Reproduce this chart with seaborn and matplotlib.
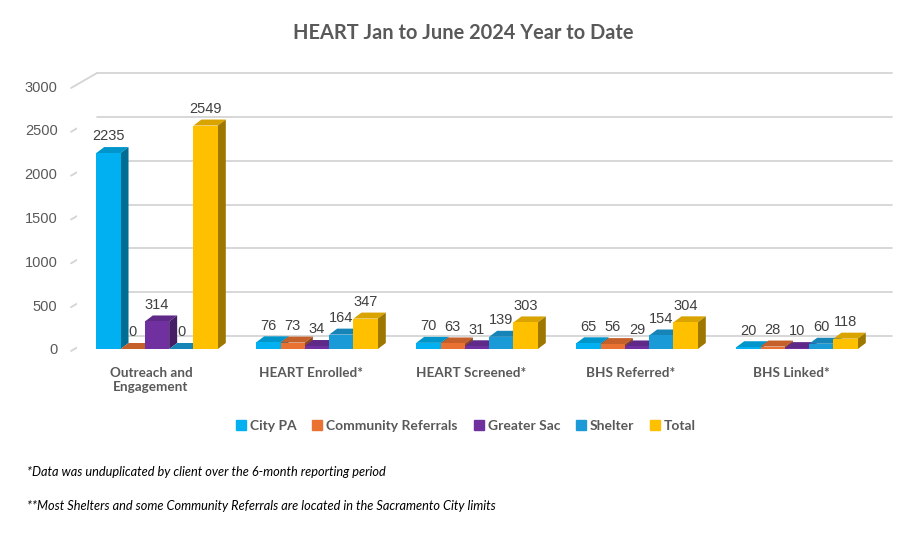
import numpy as np
import pandas as pd
import matplotlib
matplotlib.use("Agg")
import matplotlib.pyplot as plt
import matplotlib.transforms as mtransforms
from matplotlib.patches import Polygon
from matplotlib.lines import Line2D
import seaborn as sns

# Data
categories = ["Outreach and\nEngagement", "HEART Enrolled*", "HEART Screened*",
              "BHS Referred*", "BHS Linked*"]
series = ["City PA", "Community Referrals", "Greater Sac", "Shelter", "Total"]
city_pa = [2235, 76, 70, 65, 20]
community_referrals = [0, 73, 63, 56, 28]
greater_sac = [314, 34, 31, 29, 10]
shelter = [0, 164, 139, 154, 60]
total = [2549, 347, 303, 304, 118]
colors = ["#00B0F0", "#E97132", "#7030A0", "#1A9BD7", "#FFC000"]

df = pd.DataFrame({
    "Category": categories * 5,
    "Series": [s for s in series for _ in categories],
    "Value": city_pa + community_referrals + greater_sac + shelter + total,
})

DPI = 100
W, H = 917, 534
GRAY = "#595959"

sns.set_theme(style="white")
plt.rcParams["font.family"] = ["Liberation Sans", "DejaVu Sans"]

fig = plt.figure(figsize=(W / DPI, H / DPI), dpi=DPI)
# axes placed in pixel terms: front plane 0 at y=349, 3000 at y=86
ax_left, ax_right, ax_bottom, ax_top = 77, 877, 349, 86
ax = fig.add_axes([ax_left / W, (H - ax_bottom) / H,
                   (ax_right - ax_left) / W, (ax_bottom - ax_top) / H])

sns.barplot(data=df, x="Category", y="Value", hue="Series", order=categories,
            hue_order=series, palette=colors, width=0.76, gap=0,
            saturation=1, linewidth=0, legend=False, ax=ax)

ax.set_xlim(-0.5, 4.5)
ax.set_ylim(0, 3000)
ax.set_yticks(np.arange(0, 3001, 500))
ax.set_xlabel("")
ax.set_ylabel("")
for s in ax.spines.values():
    s.set_visible(False)
ax.tick_params(axis="y", length=0, pad=14, labelsize=10.5, labelcolor=GRAY)
ax.tick_params(axis="x", length=0, pad=13)
for lab in ax.get_xticklabels():
    lab.set_fontfamily(["Lato", "DejaVu Sans"])
    lab.set_fontweight("bold")
    lab.set_fontsize(9.7)
    lab.set_color(GRAY)
    lab.set_verticalalignment("top")
    lab.set_transform(lab.get_transform() +
                      mtransforms.ScaledTranslation(-6 / DPI, 0, fig.dpi_scale_trans))

# back-wall gridlines with a small perspective offset
gdx, gdy = 20, 13
blend = mtransforms.blended_transform_factory(ax.transAxes, ax.transData)
for v in ax.get_yticks():
    up = blend + mtransforms.ScaledTranslation(0, gdy / DPI, fig.dpi_scale_trans)
    ax.plot([gdx / 800, 1 + 15 / 800], [v, v], transform=up, color="#D4D4D4",
            lw=1.3, clip_on=False, zorder=0)
    p0 = blend.transform((-6 / 800, v)) + np.array([0, -2])
    p1 = blend.transform((gdx / 800, v)) + np.array([0, gdy])
    fig.add_artist(Line2D([p0[0], p1[0]], [p0[1], p1[1]], transform=None,
                          color="#D4D4D4", lw=1.3, zorder=0))

# 3D-look: top and side faces for every bar, drawn in display coordinates
dx, dy = 8, 6
bars = sorted(ax.patches, key=lambda p: p.get_x())
for i, p in enumerate(bars):
    x, w, h = p.get_x(), p.get_width(), p.get_height()
    (x0, y0), (x1, y1) = ax.transData.transform([(x, 0), (x + w, h)])
    face = np.array(p.get_facecolor()[:3])
    top = Polygon([(x0, y1), (x1, y1), (x1 + dx, y1 + dy), (x0 + dx, y1 + dy)],
                  closed=True, transform=None, facecolor=face * 0.85,
                  edgecolor="none", zorder=2 + i * 0.1)
    side = Polygon([(x1, y0), (x1 + dx, y0 + dy), (x1 + dx, y1 + dy), (x1, y1)],
                   closed=True, transform=None, facecolor=face * 0.62,
                   edgecolor="none", zorder=2 + i * 0.1)
    fig.add_artist(top)
    fig.add_artist(side)
    p.set_zorder(2.05 + i * 0.1)
    p.remove()
    fig.add_artist(p)
    p.set_transform(ax.transData)

# value labels above each bar
for i, v in enumerate(df["Value"]):
    si, ci = divmod(i, len(categories))
    xc = ci - 0.38 + 0.152 * (si + 0.5)
    ax.annotate(f"{v}", (xc, v), xytext=(0, 7), textcoords="offset points",
                ha="center", va="bottom", fontsize=10.5, color="#404040",
                annotation_clip=False, zorder=10)

# legend below the plot
handles = [Line2D([], [], marker="s", linestyle="none", markersize=7,
                  markerfacecolor=c, markeredgecolor=c) for c in colors]
fig.legend(handles, series, loc="center", bbox_to_anchor=(466 / W, 1 - 426 / H),
           ncol=5, frameon=False, handlelength=0.7, handletextpad=0.3,
           columnspacing=1.15,
           prop={"family": ["Lato", "DejaVu Sans"], "weight": "bold", "size": 10},
           labelcolor=GRAY)

fig.text(463 / W, 1 - 33 / H, "HEART Jan to June 2024 Year to Date", ha="center",
         va="center", fontsize=14.4, fontweight="bold", color=GRAY,
         family=["Lato", "DejaVu Sans"])

fig.text(27 / W, 1 - 472 / H,
         "*Data was unduplicated by client over the 6-month reporting period",
         ha="left", va="center", fontsize=9.2, style="italic", color="black",
         family=["Lato", "DejaVu Sans"])
fig.text(27 / W, 1 - 506 / H,
         "**Most Shelters and some Community Referrals are located in the Sacramento City limits",
         ha="left", va="center", fontsize=9.2, style="italic", color="black",
         family=["Lato", "DejaVu Sans"])

fig.savefig("out.png", dpi=DPI, facecolor="white")
